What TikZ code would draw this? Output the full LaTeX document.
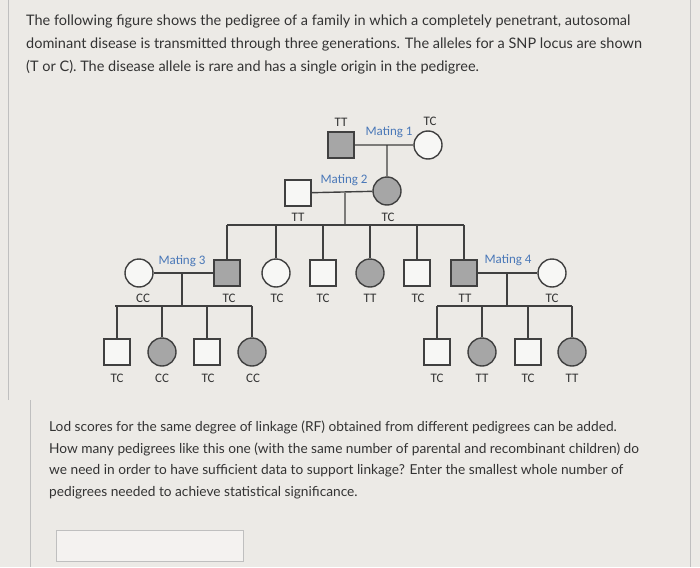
\documentclass[tikz,border=0pt]{standalone}
\usepackage{fontspec}
\setmainfont{Lato}
\newfontfamily\calfnt{Carlito}
\definecolor{bgc}{HTML}{ECEAE6}
\definecolor{mblue}{HTML}{4A78B8}
\begin{document}
\begin{tikzpicture}[x=1pt,y=-1pt,
  sq/.style={draw=black!75,line width=1.4pt,minimum size=26pt,inner sep=0pt},
  ci/.style={circle,draw=black!75,line width=1.4pt,minimum size=28pt,inner sep=0pt},
  aff/.style={fill=gray!70},
  unaff/.style={fill=white!60!bgc},
  ln/.style={draw=black!75,line width=1.4pt},
  gt/.style={font=\calfnt\fontsize{13}{14}\selectfont,text=black!80,inner sep=0pt},
  mt/.style={font=\calfnt\fontsize{13}{14}\selectfont,text=mblue,inner sep=1pt,fill=bgc},
  para/.style={anchor=west,font=\fontsize{14.5}{16}\selectfont,text=black!80,inner sep=0pt},
  parb/.style={para,font=\fontsize{13.7}{16}\selectfont}]
\useasboundingbox (0,0) rectangle (700,567);
\fill[bgc] (0,0) rectangle (700,567);
\draw[black!25,line width=0.8pt] (8,0) -- (8,400) (30,400) -- (30,567) (690,0) -- (690,567);
\node[para] (p1) at (26,21) {The following figure shows the pedigree of a family in which a completely penetrant, autosomal};
\node[para] (p2) at (26,44) {dominant disease is transmitted through three generations. The alleles for a SNP locus are shown};
\node[para] (p3) at (26,67) {(T or C). The disease allele is rare and has a single origin in the pedigree.};
% gen 1
\node[sq,aff] (a1) at (341,145) {};
\node[ci,unaff] (b1) at (428,145) {};
\node[ci,aff] (b2) at (387,191) {};
\node[sq,unaff] (a2) at (298,193) {};
\coordinate (m1) at (387,145);
\coordinate (m2) at (345,193);
\coordinate (s2) at (345,225);
\path[ln] (a1) -- (b1) (m1) -- (b2) (a2) -- (b2) (m2) -- (s2);
\draw[ln] (227,225) -- (464,225);
\node[sq,aff] (c1) at (227,273) {};
\node[ci,unaff] (c2) at (276,273) {};
\node[sq,unaff] (c3) at (323,273) {};
\node[ci,aff] (c4) at (370,273) {};
\node[sq,unaff] (c5) at (417,273) {};
\node[sq,aff] (c6) at (464,273) {};
\foreach \n/\x in {c1/227,c2/276,c3/323,c4/370,c5/417,c6/464} \draw[ln] (\x,225) -- (\n);
\node[ci,unaff] (l3) at (139,273) {};
\node[ci,unaff] (r4) at (552,273) {};
\path[ln] (l3) -- (c1) (c6) -- (r4);
\draw[ln] (182,273) -- (182,306) (115,306) -- (252,306);
\draw[ln] (507,273) -- (507,306) (437,306) -- (572,306);
\node[sq,unaff] (d1) at (117,352) {};
\node[ci,aff] (d2) at (162,352) {};
\node[sq,unaff] (d3) at (207,352) {};
\node[ci,aff] (d4) at (252,352) {};
\node[sq,unaff] (e1) at (437,352) {};
\node[ci,aff] (e2) at (482,352) {};
\node[sq,unaff] (e3) at (528,352) {};
\node[ci,aff] (e4) at (572,352) {};
\foreach \n/\x in {d1/117,d2/162,d3/207,d4/252,e1/437,e2/482,e3/528,e4/572} \draw[ln] (\x,306) -- (\n);
% labels
\node[gt] (g1) at (341,122) {TT};
\node[gt] (g2) at (430,121) {TC};
\node[gt] (g3) at (298,217) {TT};
\node[gt] (g4) at (388,217) {TC};
\foreach \x/\t in {143/CC,229/TC,277/TC,323/TC,370/TT,418/TC,465/TT,552/TC} \node[gt,fill=bgc,inner sep=0.5pt] at (\x,298) {\t};
\foreach \x/\t in {117/TC,162/CC,208/TC,253/CC,437/TC,482/TT,528/TC,572/TT} \node[gt] at (\x,378) {\t};
\node[mt] (ml1) at (389,132) {Mating 1};
\node[mt] (ml2) at (344,180) {Mating 2};
\node[mt] (ml3) at (182,261) {Mating 3};
\node[mt] (ml4) at (508,260) {Mating 4};
% bottom text
\node[parb] (q1) at (49,427) {Lod scores for the same degree of linkage (RF) obtained from different pedigrees can be added.};
\node[parb] (q2) at (49,449) {How many pedigrees like this one (with the same number of parental and recombinant children) do};
\node[parb] (q3) at (49,471) {we need in order to have sufficient data to support linkage? Enter the smallest whole number of};
\node[parb] (q4) at (49,493) {pedigrees needed to achieve statistical significance.};
\draw[black!25,line width=0.8pt,fill=bgc!60!white] (56,530) rectangle (243,561);
\end{tikzpicture}
\end{document}
